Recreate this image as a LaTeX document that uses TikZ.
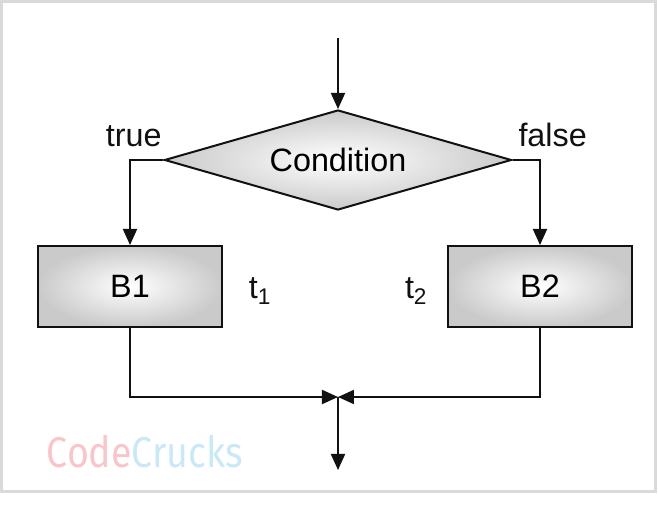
\documentclass[tikz,border=0pt]{standalone}
\usepackage{fontspec}
\setmainfont{Liberation Sans}
\newfontfamily\wmfont{Fira Sans}
\usepackage{tikz}
\usetikzlibrary{positioning, arrows.meta, shapes.geometric}
\definecolor{fcInk}{HTML}{111111}
\definecolor{fcFrame}{HTML}{DADADA}
\definecolor{fcShade}{HTML}{CACACA}
\definecolor{wmPink}{HTML}{F8C6CA}
\definecolor{wmBlue}{HTML}{CBE8F6}

\begin{document}
\begin{tikzpicture}[
    >={Triangle[length=0.32cm, width=0.28cm]},
    font=\fontsize{18.4}{22}\selectfont,
    line width=0.04cm,
    decision/.style={draw=fcInk, diamond, aspect=3.47, inner sep=0pt, minimum width=6.94cm, minimum height=2cm, inner color=white, outer color=fcShade},
    block/.style   ={draw=fcInk, rectangle, minimum width=3.68cm, minimum height=1.62cm, inner color=white, outer color=fcShade},
    lbl/.style     ={inner sep=0pt, text=fcInk},
    arr/.style     ={->, fcInk},
]
\useasboundingbox (-6.76,3.2) rectangle (6.4,-7.0);

% ---- frame ----
\draw[fcFrame, line width=0.06cm] (-6.73,3.17) rectangle (6.35,-6.63);

% ---- decision and branches ----
\node[decision] (cond) at (0,0) {Condition};
\coordinate (entry) at (0,2.44);
\node[block] (b1) at (-4.16,-2.53) {B1};
\node[block] (b2) at (4.04,-2.53) {B2};

\node[lbl, above left=0.24cm and 0.02cm of cond.west]  (yes) {true};
\node[lbl, above right=0.24cm and 0.1cm of cond.east] (no)  {false};
\node[lbl, anchor=west] (t1) at (-1.8,-2.62) {t\textsubscript{1}};
\node[lbl, anchor=west] (t2) at (1.32,-2.62) {t\textsubscript{2}};

% ---- merge ----
\coordinate (join) at (0,-4.74);
\coordinate (exit) at (0,-6.2);

% ---- arrows ----
\draw[arr] (entry) -- (cond.north);
\draw[arr] (cond.west) -| (b1.north);
\draw[arr] (cond.east) -| (b2.north);
\draw[arr] (b1.south) |- (join);
\draw[arr] (b2.south) |- (join);
\draw[arr] (join) -- (exit);

% ---- watermark ----
\node[font=\wmfont\fontsize{24}{28}\selectfont, inner sep=0pt] (mark) at (-3.86,-5.84)
  {\scalebox{0.89}[1.02]{\textcolor{wmPink}{Code}\textcolor{wmBlue}{Crucks}}};

\end{tikzpicture}
\end{document}
